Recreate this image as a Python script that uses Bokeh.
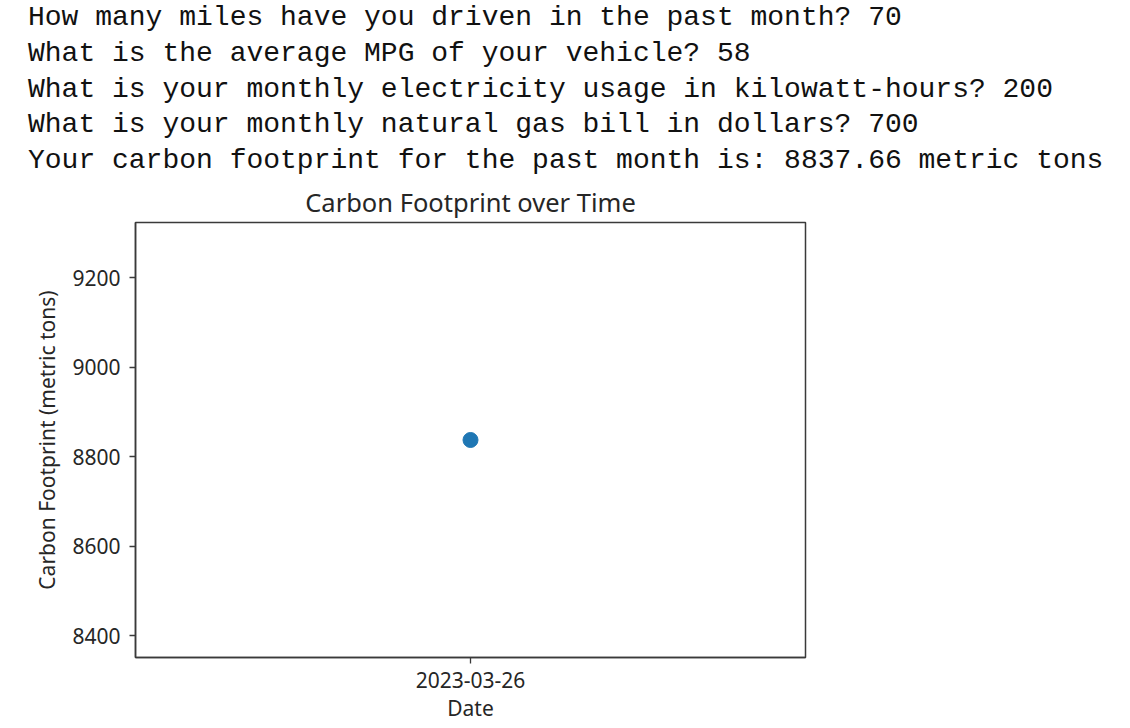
from bokeh.plotting import figure
from bokeh.models import Div, Range1d, FixedTicker
from bokeh.layouts import column
from bokeh.embed import file_html
from bokeh.resources import INLINE

# ---- data ----
prompts = [
    "How many miles have you driven in the past month?",
    "What is the average MPG of your vehicle?",
    "What is your monthly electricity usage in kilowatt-hours?",
    "What is your monthly natural gas bill in dollars?",
]
answers = ["70", "58", "200", "700"]
dates = ["2023-03-26"]
footprint = [8837.66]
y_ticks = [8400, 8600, 8800, 9000, 9200]

lines = [f"{q} {a}" for q, a in zip(prompts, answers)]
lines.append(f"Your carbon footprint for the past month is: {footprint[0]:.2f} metric tons")

html = (
    '<div style="font-family:\'Liberation Mono\',monospace;font-size:28px;'
    'line-height:35.75px;white-space:pre;color:#111;margin-left:23px;margin-top:-5px;">'
    + "\n".join(lines)
    + "</div>"
)
header = Div(text=html, width=1110, height=167)

FONT = "Noto Sans"
TXT = "#262626"
AX = "#3a3a3a"

p = figure(
    width=808, height=547,
    x_range=dates,
    y_range=Range1d(8351.6, 9323.7),
    output_backend="svg", toolbar_location=None,
    min_border_left=135, min_border_right=3,
    min_border_top=45, min_border_bottom=66,
    title="Carbon Footprint over Time",
)
p.title.align = "center"
p.title.text_font = FONT
p.title.text_font_size = "25.5px"
p.title.text_font_style = "normal"
p.title.text_color = TXT
p.title.standoff = 7

p.xgrid.visible = False
p.ygrid.visible = False
p.outline_line_color = AX
p.outline_line_width = 1.5
p.background_fill_color = "white"
p.border_fill_color = "white"

p.yaxis.ticker = FixedTicker(ticks=y_ticks)
for ax in (p.xaxis, p.yaxis):
    ax.axis_line_color = AX
    ax.axis_line_width = 1.5
    ax.major_tick_line_color = AX
    ax.major_tick_line_width = 1.3
    ax.major_tick_out = 6
    ax.major_tick_in = 0
    ax.minor_tick_line_color = None
    ax.major_label_text_font = FONT
    ax.major_label_text_font_size = "21px"
    ax.major_label_text_color = TXT
    ax.axis_label_text_font = FONT
    ax.axis_label_text_font_size = "21px"
    ax.axis_label_text_font_style = "normal"
    ax.axis_label_text_color = TXT

p.xaxis.axis_label = "Date"
p.xaxis.major_label_standoff = 8
p.xaxis.axis_label_standoff = 3
p.yaxis.axis_label = "Carbon Footprint (metric tons)"
p.yaxis.major_label_standoff = 9
p.yaxis.axis_label_standoff = 8

p.scatter(x=dates, y=footprint, size=15, color="#1f77b4", line_color="#1f77b4")

layout = column(header, p, spacing=0)
open("out.html", "w").write(file_html(layout, INLINE))
